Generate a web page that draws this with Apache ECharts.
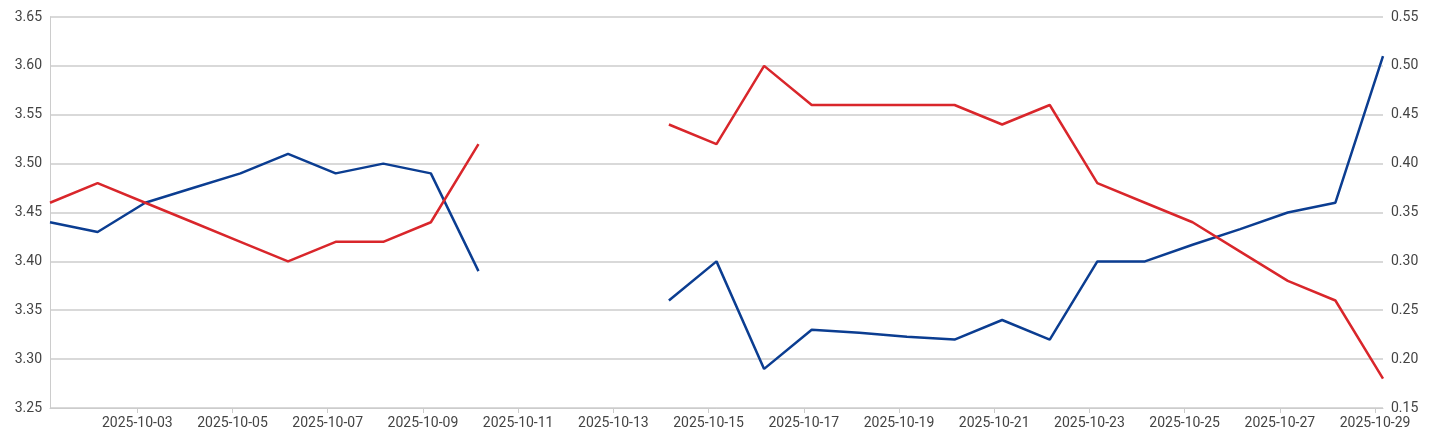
<!DOCTYPE html>
<html>
<head>
<meta charset="utf-8">
<script src="https://cdn.jsdelivr.net/npm/echarts@6/dist/echarts.min.js"></script>
<style>html,body{margin:0;padding:0;background:#fff}#chart{width:1438px;height:438px}</style>
</head>
<body>
<div id="chart"></div>
<script>
const days = ['01','02','03','04','05','06','07','08','09','10','14','15','16','17','18','19','20','21','22','23','24','25','26','27','28','29'];
const blueValues = [3.44,3.43,3.46,3.475,3.49,3.51,3.49,3.50,3.49,3.39, 3.36,3.40,3.29,3.33,3.327,3.323,3.32,3.34,3.32,3.40,3.40,3.417,3.433,3.45,3.46,3.61];
const redValues = [0.36,0.38,0.36,0.34,0.32,0.30,0.32,0.32,0.34,0.42, 0.44,0.42,0.50,0.46,0.46,0.46,0.46,0.44,0.46,0.38,0.36,0.34,0.31,0.28,0.26,0.18];

const times = days.map(d => new Date('2025-10-' + d + 'T04:00:00').getTime());
function toSeries(vals) {
  const out = [];
  times.forEach((t, i) => {
    if (i > 0 && t - times[i - 1] > 86400000 * 1.5) out.push([t - 86400000, null]);
    out.push([t, vals[i]]);
  });
  return out;
}

const DAY = 86400000;
const chart = echarts.init(document.getElementById('chart'));
const labelStyle = { color: '#444', fontSize: 14, fontFamily: 'Roboto' };
chart.setOption({
  animation: false,
  grid: { left: 50, right: 55, top: 17, bottom: 30 },
  xAxis: {
    type: 'time',
    min: times[0], max: times[times.length - 1],
    minInterval: 2 * DAY, maxInterval: 2 * DAY,
    axisLine: { lineStyle: { color: '#ccc' } },
    axisTick: { show: true, lineStyle: { color: '#ccc' } },
    splitLine: { show: false },
    axisLabel: Object.assign({ formatter: '{yyyy}-{MM}-{dd}', showMinLabel: false, showMaxLabel: false, hideOverlap: false }, labelStyle)
  },
  yAxis: [
    { type: 'value', min: 3.25, max: 3.65, interval: 0.05,
      axisLine: { show: true, lineStyle: { color: '#ccc' } },
      splitLine: { lineStyle: { color: '#ccc', width: 1.5 } },
      axisLabel: Object.assign({ formatter: v => v.toFixed(2) }, labelStyle) },
    { type: 'value', min: 0.15, max: 0.55, interval: 0.05,
      axisLine: { show: false }, splitLine: { show: false },
      axisLabel: Object.assign({ formatter: v => v.toFixed(2) }, labelStyle) }
  ],
  series: [
    { type: 'line', yAxisIndex: 0, data: toSeries(blueValues), showSymbol: false, connectNulls: false,
      lineStyle: { color: '#0b3d91', width: 2.5 }, itemStyle: { color: '#0b3d91' } },
    { type: 'line', yAxisIndex: 1, data: toSeries(redValues), showSymbol: false, connectNulls: false,
      lineStyle: { color: '#d9262b', width: 2.5 }, itemStyle: { color: '#d9262b' } }
  ]
});
</script>
</body>
</html>
